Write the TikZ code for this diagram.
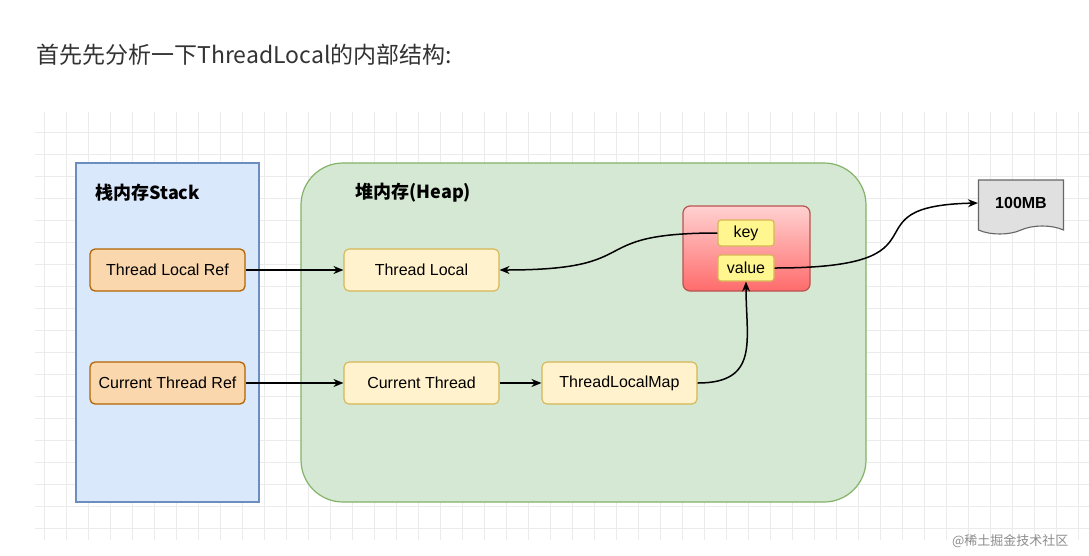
\documentclass[tikz,border=0pt]{standalone}
\usepackage{fontspec}
\setmainfont{Liberation Sans}
\newfontfamily\cjk{Noto Sans CJK SC}
\usetikzlibrary{positioning,shapes.symbols,arrows.meta}
\definecolor{stackfill}{HTML}{DAE8FC}
\definecolor{stackline}{HTML}{6C8EBF}
\definecolor{heapfill}{HTML}{D5E8D4}
\definecolor{heapline}{HTML}{82B366}
\definecolor{reffill}{HTML}{FAD7AC}
\definecolor{refline}{HTML}{B46504}
\definecolor{objfill}{HTML}{FFF2CC}
\definecolor{objline}{HTML}{D6B656}
\definecolor{mapline}{HTML}{B85450}
\tikzset{
  refbox/.style={draw=refline,line width=1.3pt,fill=reffill,rounded corners=5pt,minimum width=155pt,minimum height=42pt,font=\fontsize{16}{19}\selectfont},
  objbox/.style={draw=objline,line width=1.1pt,fill=objfill,rounded corners=5pt,minimum width=155pt,minimum height=42pt,font=\fontsize{16}{19}\selectfont},
  kvbox/.style={draw=objline,line width=1.1pt,fill=objfill!70!yellow,rounded corners=3pt,minimum width=56pt,minimum height=26pt,font=\fontsize{16}{19}\selectfont},
  link/.style={-{Stealth[length=10pt,width=8pt]},line width=1.5pt}
}
\begin{document}
\begin{tikzpicture}[x=1pt,y=-1pt]
    \useasboundingbox (0,0) rectangle (1089,555);
    \fill[white] (0,0) rectangle (1089,555);
    % grid background
    \draw[black!8,step=22pt] (35,112) grid (1089,540);
    \node[anchor=west,text=black!80,font=\cjk\fontsize{23}{26}\selectfont] (title) at (33,55) {首先先分析一下ThreadLocal的内部结构:};

    % stack and heap
    \draw[stackline,line width=1.2pt,fill=stackfill] (76,163) rectangle (259,502);
    \node[anchor=west,font=\cjk\bfseries\fontsize{18}{21}\selectfont] (stk) at (92,193) {栈内存\textbf{Stack}};
    \draw[heapline,line width=1.2pt,fill=heapfill,rounded corners=42pt] (301,163) rectangle (866,502);
    \node[anchor=west,font=\cjk\bfseries\fontsize{18}{21}\selectfont] (hp) at (352,193) {堆内存(\textbf{Heap})};

    \node[refbox] (tlref) at (167.5,270) {Thread Local Ref};
    \node[refbox] (ctref) at (167.5,383) {Current Thread Ref};
    \node[objbox] (tl) at (421.5,270) {Thread Local};
    \node[objbox] (ct) at (421.5,383) {Current Thread};
    \node[objbox] (tlm) at (619.5,383) {ThreadLocalMap};

    \shade[top color=red!18,bottom color=red!58,rounded corners=7pt] (683,206) rectangle (810,291);
    \draw[mapline,line width=1.2pt,rounded corners=7pt] (683,206) rectangle (810,291);
    \node[kvbox] (key) at (746,233) {key};
    \node[kvbox] (val) at (746,268) {value};

    \node[tape,tape bend top=none,tape bend height=8pt,draw=black!60,line width=1.1pt,fill=black!12,minimum width=85pt,minimum height=54pt,font=\bfseries\fontsize{16}{19}\selectfont] (mb) at (1021,203) {100MB};

    \draw[link] (tlref) -- (tl);
    \draw[link] (ctref) -- (ct);
    \draw[link] (ct) -- (tlm);
    \draw[link] (tlm.east) .. controls (760,383) and (746,340) .. (val.south);
    \draw[link] (key.west) .. controls (580,233) and (650,270) .. (tl.east);
    \draw[link] (val.east) .. controls (960,268) and (840,206) .. (mb.west);

    \node[anchor=east,text=black!45,font=\cjk\fontsize{13}{15}\selectfont] (wm) at (1072,541) {@稀土掘金技术社区};
\end{tikzpicture}
\end{document}
